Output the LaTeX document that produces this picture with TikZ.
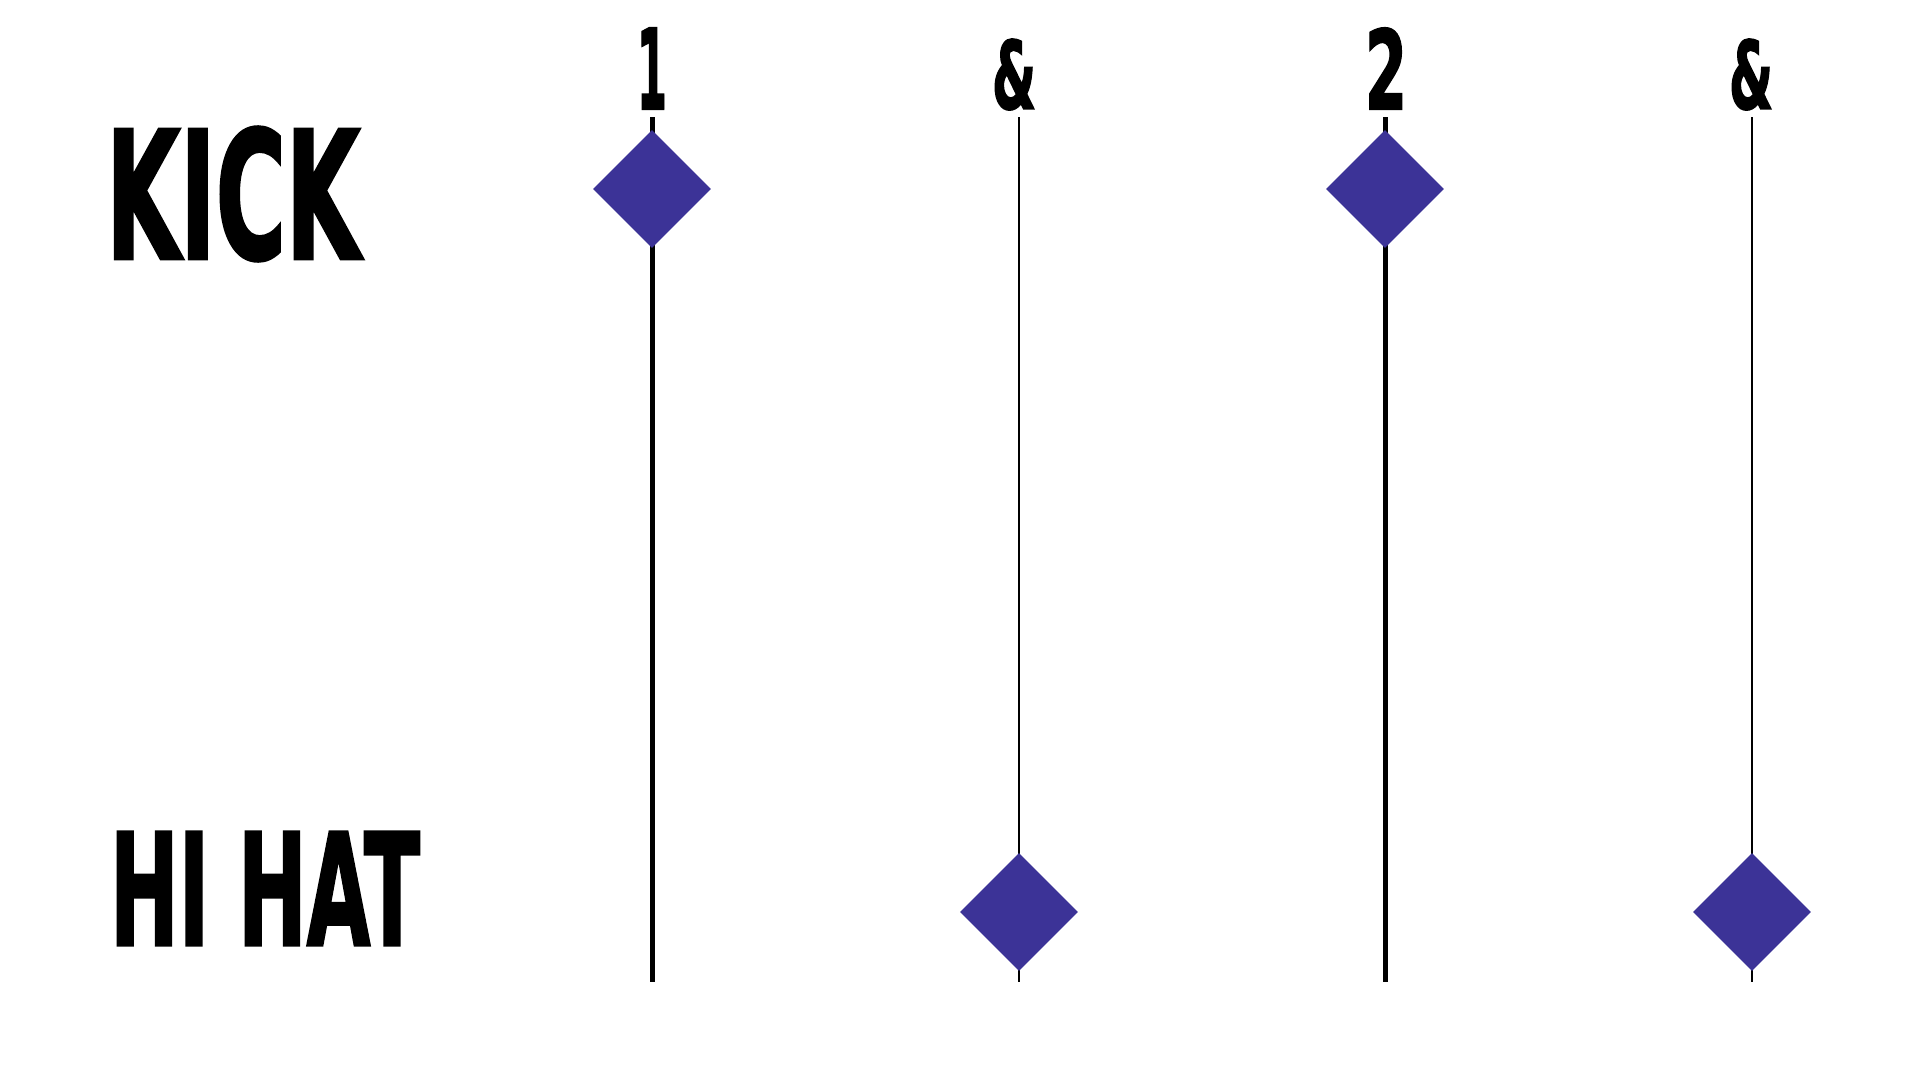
\documentclass[tikz,border=0pt]{standalone}
\usepackage{fontspec}
\newfontfamily\heavy{DejaVu Sans Bold}[FakeBold=2]
\usetikzlibrary{shapes.geometric}
\definecolor{notecol}{RGB}{60,51,151}
\tikzset{
  beatline/.style={draw=black, line width=5pt},
  offline/.style={draw=black, line width=2.8pt},
  hit/.style={shape=diamond, fill=notecol, draw=none, inner sep=0pt, minimum width=118pt, minimum height=118pt},
  lbl/.style={inner sep=0pt, anchor=center, text=black},
}
\newcommand{\fitbox}[3]{\resizebox*{#1pt}{#2pt}{\heavy #3}}
\begin{document}
\begin{tikzpicture}[x=1pt,y=-1pt]
\useasboundingbox (0,0) rectangle (1920,1080);
\fill[white] (0,0) rectangle (1920,1080);
% row labels
\node[lbl] (kick) at (233,194) {\fitbox{254}{134}{KICK}};
\node[lbl] (hihat) at (265,888.5) {\fitbox{310}{113}{HI HAT}};
% count labels
\node[lbl] (c1) at (652,68.5) {\fitbox{30}{81}{1}};
\node[lbl] (c2) at (1014,74.5) {\fitbox{44}{71}{\&}};
\node[lbl] (c3) at (1386,68.5) {\fitbox{42}{81}{2}};
\node[lbl] (c4) at (1751,74.5) {\fitbox{44}{71}{\&}};
% line ends
\coordinate (t1) at (652,117); \coordinate (b1) at (652,982);
\coordinate (t2) at (1019,117); \coordinate (b2) at (1019,982);
\coordinate (t3) at (1385,117); \coordinate (b3) at (1385,982);
\coordinate (t4) at (1752,117); \coordinate (b4) at (1752,982);
\draw[beatline] (t1) -- (b1);
\draw[offline] (t2) -- (b2);
\draw[beatline] (t3) -- (b3);
\draw[offline] (t4) -- (b4);
% hits
\node[hit] (k1) at (652,189) {};
\node[hit] (k2) at (1385,189) {};
\node[hit] (h1) at (1019,912) {};
\node[hit] (h2) at (1752,912) {};
\end{tikzpicture}
\end{document}
